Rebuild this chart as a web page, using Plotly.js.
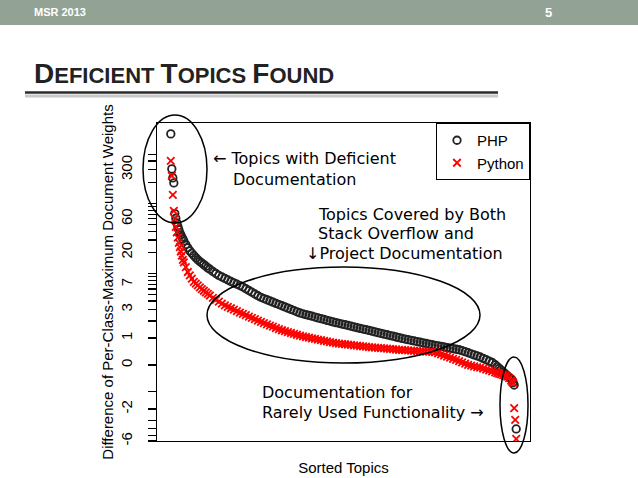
<!DOCTYPE html>
<html><head><meta charset="utf-8">
<script src="https://cdn.plot.ly/plotly-3.0.1.min.js"></script>
<style>html,body{margin:0;padding:0;background:#fff}#chart{width:638px;height:478px}</style>
</head><body><div id="chart"></div>
<script>
// ---- data ----
const phpRank = [1,2,3,4,5,6,7,8,9,10,11,12,13,14,16,18,20,22,24,26,28,30,32,34,36,38,40,43,46,49,52,55,58,61,64,67,70,73,76,79,82,85,88,91,94,97,100,103,106,109,112,115,118,121,124,127,130,133,136,139,142,145,148,151,154,157,160,163,166,169,172,175,178,181,184,187,190,193,196,199,202,205,208,211,214,217,220,223,226,229,232,235,238,241,244,247,250,253,256,259,262,265,268,271,274,277,280,283,286,289,292,295,298,301,304,307,310,313,316,319,322,325,327,329,331,333,335,337,339,341,342,343,344,346];
const phpValue = [973,309,230,195,71.4,61.3,52.6,47.2,42.3,37.9,35.5,33.2,31.1,29.1,25.9,23.3,21.0,19.5,18.1,16.8,15.7,14.8,14.1,13.4,12.7,12.0,11.5,10.7,10.0,9.38,8.92,8.50,8.08,7.69,7.34,7.02,6.71,6.41,6.04,5.70,5.38,5.07,4.78,4.54,4.35,4.18,4.02,3.86,3.70,3.55,3.41,3.28,3.14,3.01,2.89,2.77,2.66,2.58,2.51,2.44,2.37,2.30,2.23,2.17,2.11,2.04,1.99,1.93,1.88,1.83,1.78,1.74,1.69,1.64,1.60,1.55,1.51,1.47,1.43,1.39,1.35,1.31,1.27,1.23,1.19,1.16,1.12,1.09,1.05,1.02,0.984,0.956,0.926,0.898,0.872,0.844,0.818,0.791,0.764,0.739,0.713,0.690,0.668,0.646,0.624,0.603,0.582,0.561,0.539,0.519,0.486,0.448,0.411,0.374,0.337,0.301,0.265,0.219,0.173,0.126,0.081,0.007,-0.052,-0.112,-0.172,-0.232,-0.292,-0.353,-0.416,-0.480,-0.512,-0.606,-0.704,-4.01];
const pyRank = [1,2,3,4,5,6,7,8,9,10,11,12,13,14,16,18,20,22,24,26,28,30,32,34,36,38,40,43,46,49,52,55,58,61,64,67,70,73,76,79,82,85,88,91,94,97,100,103,106,109,112,115,118,121,124,127,130,133,136,139,142,145,148,151,154,157,160,163,166,169,172,175,178,181,184,187,190,193,196,199,202,205,208,211,214,217,220,223,226,229,232,235,238,241,244,247,250,253,256,259,262,265,268,271,274,277,280,283,286,289,292,295,298,301,304,307,310,313,316,319,322,325,327,329,331,333,335,337,339,341,342,343,344,345,346];
const pyValue = [402,246,132,78.0,60.0,46.1,38.7,32.5,27.3,23.7,20.6,18.0,15.7,14.4,12.3,10.5,9.43,8.45,7.57,7.14,6.73,6.34,5.98,5.65,5.36,5.08,4.82,4.44,4.18,3.92,3.68,3.46,3.28,3.13,2.98,2.84,2.70,2.58,2.46,2.34,2.23,2.13,2.02,1.93,1.84,1.76,1.68,1.61,1.53,1.46,1.40,1.35,1.30,1.25,1.21,1.16,1.12,1.08,1.05,1.02,0.988,0.960,0.932,0.904,0.876,0.849,0.822,0.796,0.775,0.761,0.746,0.732,0.718,0.704,0.689,0.675,0.662,0.648,0.634,0.621,0.611,0.600,0.590,0.579,0.569,0.559,0.549,0.539,0.529,0.519,0.510,0.503,0.496,0.490,0.483,0.476,0.470,0.463,0.456,0.450,0.443,0.426,0.388,0.352,0.315,0.279,0.243,0.204,0.165,0.124,0.084,0.042,0,-0.023,-0.045,-0.068,-0.090,-0.118,-0.150,-0.180,-0.212,-0.244,-0.268,-0.292,-0.316,-0.341,-0.366,-0.390,-0.446,-0.534,-0.580,-0.625,-1.93,-2.95,-5.61];
const seriesNames = ['PHP', 'Python'];
const topicCount = 346;
const yTicksAll = [-6,-5,-4,-3,-2,-1,0,1,2,3,4,5,6,7,8,9,10,20,30,40,50,60,70,80,90,100,200,300,400,500];
const yTickLabeled = [-6,-2,0,1,3,7,20,60,300];
const yMin = -6, yMax = 1390;

// ---- helpers ----
const tr = v => Math.asinh(v);
const PL = 157, PR = 530, PT = 123, PB = 441;
const px = x => (x - PL) / (PR - PL);
const py = y => (PB - y) / (PB - PT);
const SANS = 'Liberation Sans, Arial, sans-serif';
const DJ = 'DejaVu Sans, sans-serif';

const traces = [
  {x: phpRank, y: phpValue.map(tr), customdata: phpValue, name: seriesNames[0], type: 'scatter', mode: 'markers',
   marker: {symbol: 'circle-open', size: 7.5, color: '#222', line: {width: 1.8, color: '#222'}}},
  {x: pyRank, y: pyValue.map(tr), customdata: pyValue, name: seriesNames[1], type: 'scatter', mode: 'markers',
   marker: {symbol: 'x-thin-open', size: 7.5, color: '#ff0000', line: {width: 1.8, color: '#ff0000'}}}
];

const pad = 0.04 * (topicCount - 1);
const ann = (t, x, y, o) => Object.assign({text: t, x: px(x), y: py(y), xref: 'paper', yref: 'paper',
  showarrow: false, xanchor: 'left', yanchor: 'middle', font: {family: DJ, size: 16, color: '#000'}}, o || {});
const ell = (x0, y0, x1, y1) => ({type: 'circle', xref: 'paper', yref: 'paper', x0: px(x0), x1: px(x1),
  y0: py(y1), y1: py(y0), line: {color: '#000', width: 1.5}});

const layout = {
  width: 638, height: 478, autosize: false,
  margin: {l: PL, r: 638 - PR, t: PT, b: 478 - PB, pad: 0},
  paper_bgcolor: '#fff', plot_bgcolor: '#fff',
  font: {family: SANS, size: 15, color: '#000'},
  showlegend: true,
  legend: {x: 1, y: 1, xanchor: 'right', yanchor: 'top', bgcolor: '#fff', bordercolor: '#000', borderwidth: 1,
    font: {family: SANS, size: 15}, itemwidth: 30, tracegroupgap: 0},
  xaxis: {range: [1 - pad, topicCount + pad], showline: true, mirror: true, linecolor: '#000', linewidth: 1.3,
    showticklabels: false, ticks: '', showgrid: false, zeroline: false,
    title: {text: 'Sorted Topics', font: {family: SANS, size: 15}, standoff: 21}},
  yaxis: {range: [tr(yMin), tr(yMax)], showline: true, mirror: true, linecolor: '#000', linewidth: 1.3,
    showgrid: false, zeroline: false, tickmode: 'array',
    tickvals: yTicksAll.map(tr),
    ticktext: yTicksAll.map(v => yTickLabeled.includes(v) ? String(v) : ''),
    ticks: 'outside', ticklen: 8, tickwidth: 1.2, tickcolor: '#000', tickangle: -90,
    ticklabelstandoff: 10,
    tickfont: {family: SANS, size: 15},
    title: {text: 'Difference of Per-Class-Maximum Document Weights', font: {family: SANS, size: 15}, standoff: 0}},
  shapes: [
    {type: 'rect', xref: 'paper', yref: 'paper', x0: px(0), x1: px(638), y0: py(25), y1: py(0),
      fillcolor: '#92a396', line: {width: 0}, layer: 'below'},
    {type: 'line', xref: 'paper', yref: 'paper', x0: px(25), x1: px(498), y0: py(96), y1: py(96),
      line: {color: '#c8c8c8', width: 3}, layer: 'below'},
    {type: 'line', xref: 'paper', yref: 'paper', x0: px(25), x1: px(498), y0: py(92.5), y1: py(92.5),
      line: {color: '#2b2b2b', width: 2.5}, layer: 'below'},
    ell(143, 115, 207, 223),
    ell(207, 267, 480, 363),
    ell(500, 357, 528, 453)
  ],
  annotations: [
    ann('<b>MSR 2013</b>', 32, 12.5, {font: {family: SANS, size: 11, color: '#fff'}}),
    ann('<b>5</b>', 548, 12.5, {xanchor: 'center', font: {family: SANS, size: 13, color: '#fff'}}),
    ann('<b><span style="font-size:28px">D</span>EFICIENT <span style="font-size:28px">T</span>OPICS <span style="font-size:28px">F</span>OUND</b>',
      32, 74, {font: {family: 'Liberation Sans Narrow, Liberation Sans, Arial', size: 22, color: '#222'}}),
    ann('\u2190 Topics with Deficient', 211, 158),
    ann('Documentation', 231, 179),
    ann('Topics Covered by Both', 316, 214),
    ann('Stack Overflow and', 316, 233),
    ann('\u2193Project Documentation', 304, 253),
    ann('Documentation for', 260, 392),
    ann('Rarely Used Functionality \u2192', 260, 412)
  ]
};

Plotly.newPlot('chart', traces, layout, {staticPlot: true, displayModeBar: false});
</script></body></html>
